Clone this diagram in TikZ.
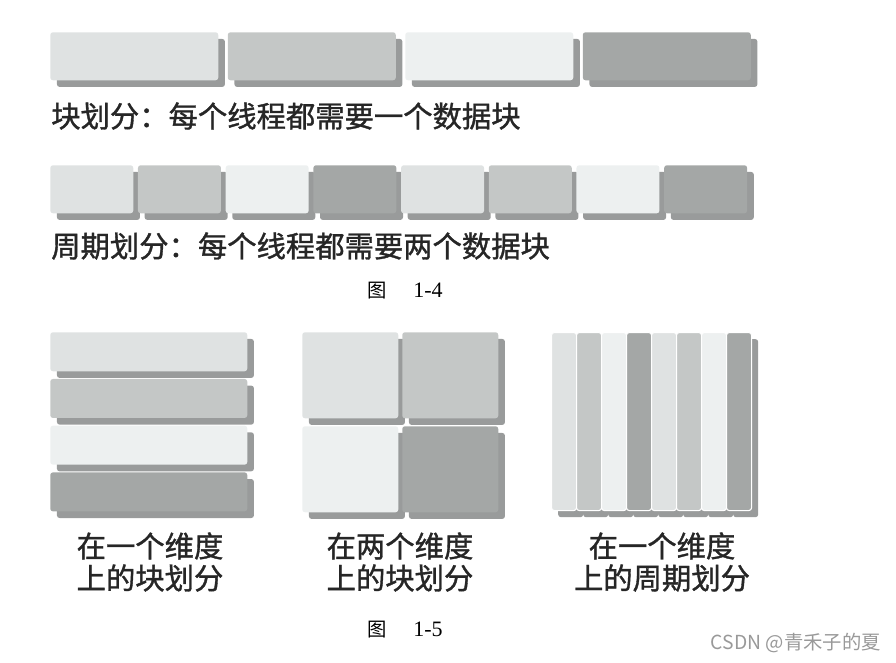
\documentclass[tikz,border=0pt]{standalone}
\usepackage{fontspec}
\setmainfont{Liberation Serif}
\newfontfamily\cjk{Noto Sans CJK SC}
\newfontfamily\cjkmed{Noto Sans CJK SC}[FakeBold=1.2]
\usetikzlibrary{positioning,shadows}
\definecolor{cA}{HTML}{DFE2E2}
\definecolor{cB}{HTML}{C4C7C6}
\definecolor{cC}{HTML}{EDF0F0}
\definecolor{cD}{HTML}{A4A7A6}
\definecolor{shd}{HTML}{999B9B}
\begin{document}
\begin{tikzpicture}[
  x=0.75pt, y=-0.75pt,
  blk/.style    = {fill=#1, draw=none, rounded corners=2pt, inner sep=0pt,
                   anchor=north west,
                   drop shadow={shadow xshift=5pt, shadow yshift=-5pt,
                                fill=shd, opacity=1}},
  stripe/.style = {blk=#1, draw=white, line width=0.8pt},
  lbl/.style    = {font=\cjkmed\fontsize{22}{24}\selectfont, inner sep=0pt,
                   text=black!85},
  figcap/.style = {font=\fontsize{16.5}{18}\selectfont, inner sep=0pt, anchor=west},
  sub/.style    = {lbl, align=center}
]
\useasboundingbox (0,0) rectangle (896,663);

% ======================= figure 1-4 ========================================
\foreach \i/\c in {0/cA,1/cB,2/cC,3/cD}
  \node[blk=\c, minimum width=126pt, minimum height=36pt]
    (blk\i) at ({50+177.5*\i},32) {};
\node[lbl, anchor=west] (lblblk) at (51,116)
  {块划分：每个线程都需要一个数据块};

\foreach \i/\c in {0/cA,1/cB,2/cC,3/cD,4/cA,5/cB,6/cC,7/cD}
  \node[blk=\c, minimum width=62.25pt, minimum height=36pt]
    (cyc\i) at ({50+87.7*\i},165) {};
\node[lbl, anchor=west] (lblcyc) at (51,246)
  {周期划分：每个线程都需要两个数据块};

\node[figcap] (fig4) at (367,291) {{\cjk\fontsize{14.5}{16}\selectfont 图}\hspace{20pt}1-4};

% ======================= figure 1-5 ========================================
% one dimension, block
\foreach \i/\c in {0/cA,1/cB,2/cC,3/cD}
  \node[blk=\c, minimum width=147.75pt, minimum height=29.25pt]
    (row\i) at (50,{332+46.7*\i}) {};
% two dimensions, block
\node[blk=cA, minimum width=72pt, minimum height=64.5pt] (sq0) at (302,332) {};
\node[blk=cB, minimum width=72pt, minimum height=64.5pt] (sq1) at (402,332) {};
\node[blk=cC, minimum width=72pt, minimum height=64.5pt] (sq2) at (302,426) {};
\node[blk=cD, minimum width=72pt, minimum height=64.5pt] (sq3) at (402,426) {};
% one dimension, cyclic
\foreach \i/\c in {0/cA,1/cB,2/cC,3/cD,4/cA,5/cB,6/cC,7/cD}
  \node[stripe=\c, minimum width=18.75pt, minimum height=133.5pt]
    (col\i) at ({551+25*\i},332) {};

\node[sub] (sub1) at (150,562) {在一个维度\\上的块划分};
\node[sub] (sub2) at (400,562) {在两个维度\\上的块划分};
\node[sub] (sub3) at (662,562) {在一个维度\\上的周期划分};

\node[figcap] (fig5) at (367,630) {{\cjk\fontsize{14.5}{16}\selectfont 图}\hspace{20pt}1-5};

\node[font=\cjk\fontsize{14.5}{16}\selectfont, text=black!40, inner sep=0pt,
      anchor=east] (mark) at (881,643) {CSDN @青禾子的夏};
\end{tikzpicture}
\end{document}
